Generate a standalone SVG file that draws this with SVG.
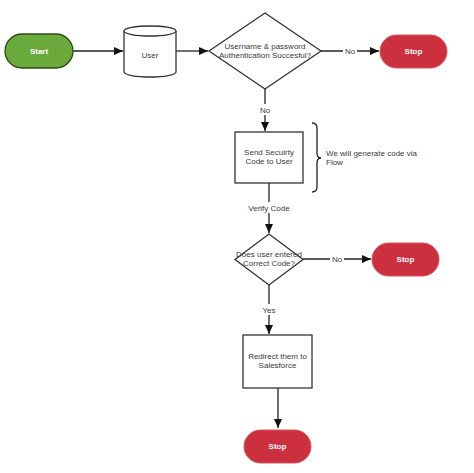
<svg xmlns="http://www.w3.org/2000/svg" width="474" height="473" viewBox="0 0 474 473">
<defs>
<style>
text{font-family:"Liberation Sans",Arial,sans-serif;font-size:8px;fill:#3a3a3a;text-anchor:middle}
.t{fill:#fff;font-weight:bold}
.box{fill:#fff;stroke:#333;stroke-width:1.3}
.stop{fill:#cc2f3d;stroke:#d9545e;stroke-width:1}
.start{fill:#6aaa3c;stroke:#2f4a1c;stroke-width:1.3}
.c{fill:none;stroke:#222;stroke-width:1.3}
.lbl{fill:#fff}
</style>
<marker id="a" markerWidth="10" markerHeight="8" refX="9" refY="4" orient="auto" markerUnits="userSpaceOnUse">
<path d="M0,0 L9,4 L0,8 Z" fill="#111"/>
</marker>
</defs>
<rect width="474" height="473" fill="#fff"/>
<g id="connectors">
<path class="c" d="M73,51 H123" marker-end="url(#a)"/>
<path class="c" d="M176,51 H208" marker-end="url(#a)"/>
<path class="c" d="M321,51 H379" marker-end="url(#a)"/>
<rect class="lbl" x="343" y="45" width="14" height="11"/>
<text x="350" y="54">No</text>
<path class="c" d="M265,89 V131" marker-end="url(#a)"/>
<rect class="lbl" x="258" y="104" width="14" height="11"/>
<text x="265" y="113">No</text>
<path class="c" d="M269,183 V233" marker-end="url(#a)"/>
<rect class="lbl" x="249" y="202" width="40" height="11"/>
<text x="269" y="211">Verify Code</text>
<path class="c" d="M303,259 H371" marker-end="url(#a)"/>
<rect class="lbl" x="330" y="253" width="14" height="11"/>
<text x="337" y="262">No</text>
<path class="c" d="M269,285 V334" marker-end="url(#a)"/>
<rect class="lbl" x="261" y="304" width="16" height="11"/>
<text x="269" y="313">Yes</text>
<path class="c" d="M278,388 V428" marker-end="url(#a)"/>
</g>
<g id="start">
<rect class="start" x="5" y="34" width="68" height="34" rx="17"/>
<text class="t" x="39" y="54">Start</text>
</g>
<g id="user">
<path class="box" d="M124,31 V72 A26,5 0 0 0 176,72 V31"/>
<ellipse class="box" cx="150" cy="31" rx="26" ry="5"/>
<text x="150" y="58">User</text>
</g>
<g id="auth">
<polygon class="box" points="265,13 321,51 265,89 209,51"/>
<text x="265" y="49">Username &amp; password</text>
<text x="265" y="58">Authentication Succesful?</text>
</g>
<g id="stop1">
<rect class="stop" x="380" y="35" width="67" height="33" rx="16.5"/>
<text class="t" x="413.5" y="54">Stop</text>
</g>
<g id="send">
<rect class="box" x="235" y="132" width="68" height="51"/>
<text x="269" y="155">Send Secuirty</text>
<text x="269" y="164">Code to User</text>
</g>
<g id="note">
<path class="c" d="M312,123 Q317,123 317,128 V153 Q317,158 321,158 Q317,158 317,163 V187 Q317,192 312,192" stroke-width="1"/>
<text x="326" y="156" style="text-anchor:start">We will generate code via</text>
<text x="326" y="165" style="text-anchor:start">Flow</text>
</g>
<g id="check">
<polygon class="box" points="269,234 303,259.5 269,285 235,259.5"/>
<text x="269" y="257">Does user entered</text>
<text x="269" y="266">Correct Code?</text>
</g>
<g id="stop2">
<rect class="stop" x="372" y="243" width="67" height="33" rx="16.5"/>
<text class="t" x="405.5" y="262">Stop</text>
</g>
<g id="redirect">
<rect class="box" x="243" y="335" width="69" height="53"/>
<text x="277.5" y="359">Redirect them to</text>
<text x="277.5" y="368">Salesforce</text>
</g>
<g id="stop3">
<rect class="stop" x="244" y="430" width="67" height="33" rx="16.5"/>
<text class="t" x="277.5" y="449">Stop</text>
</g>
</svg>
